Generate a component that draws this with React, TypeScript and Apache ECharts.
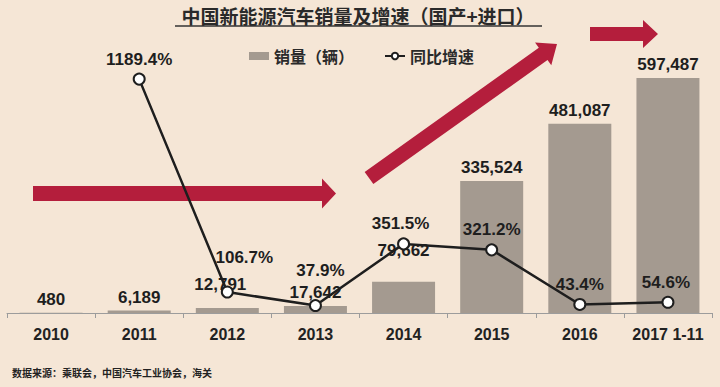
import React, { useEffect, useRef } from "react";
import * as echarts from "echarts";

const categories = ["2010", "2011", "2012", "2013", "2014", "2015", "2016", "2017 1-11"];
const salesValues = [480, 6189, 12791, 17642, 79662, 335524, 481087, 597487];
const growthValues: (number | null)[] = [null, 1189.4, 106.7, 37.9, 351.5, 321.2, 43.4, 54.6];

// label nudges (layout only)
const barLabelOffsets: [number, number][] = [[0, 0], [0, 0], [-7, -10], [0, 0], [0, -18], [0, 0], [0, 0], [0, 0]];
const lineLabelOffsets: [number, number][] = [[0, 0], [0, 0], [17, -15], [5, -15], [-3, 0], [0, 0], [0, 0], [-2, 0]];

const TITLE = "中国新能源汽车销量及增速（国产+进口）";
const SOURCE = "数据来源：乘联会，中国汽车工业协会，海关";
const SALES_NAME = "销量（辆）";
const GROWTH_NAME = "同比增速";

const LATIN = "'Liberation Sans', Arial, 'Noto Sans CJK SC', sans-serif";
const CJK = "'Noto Sans CJK SC', 'Liberation Sans', sans-serif";
const ARROW = "#b41e3c";

function arrowPoints(tail: number[], tip: number[], sh: number, hh: number, hl: number) {
  const dx = tip[0] - tail[0];
  const dy = tip[1] - tail[1];
  const len = Math.sqrt(dx * dx + dy * dy);
  const ux = dx / len, uy = dy / len;
  const nx = -uy, ny = ux;
  const bx = tip[0] - hl * ux, by = tip[1] - hl * uy;
  return [
    [tail[0] + sh * nx, tail[1] + sh * ny],
    [bx + sh * nx, by + sh * ny],
    [bx + hh * nx, by + hh * ny],
    [tip[0], tip[1]],
    [bx - hh * nx, by - hh * ny],
    [bx - sh * nx, by - sh * ny],
    [tail[0] - sh * nx, tail[1] - sh * ny],
  ];
}

export default function App() {
  const ref = useRef<HTMLDivElement>(null);
  useEffect(() => {
    if (!ref.current) return;
    const chart = echarts.init(ref.current, null, { renderer: "svg" });
    const labelText = { fontFamily: LATIN, fontWeight: "bold" as const, fontSize: 17, color: "#1e1e1e" };
    chart.setOption({
      animation: false,
      backgroundColor: "#f5e6d6",
      grid: { left: 7, right: 8, top: 37.7, bottom: 74 },
      legend: {
        left: 244,
        top: 43,
        itemWidth: 20,
        itemHeight: 8,
        itemGap: 30,
        textStyle: { fontFamily: CJK, fontWeight: "bold", fontSize: 16, color: "#2a2a2a" },
        data: [{ name: SALES_NAME, icon: "rect" }, { name: GROWTH_NAME }],
      },
      xAxis: {
        type: "category",
        data: categories,
        axisLine: { lineStyle: { color: "#9c9c9c", width: 1 } },
        axisTick: { show: true, length: 5, lineStyle: { color: "#9c9c9c" } },
        axisLabel: { interval: 0, fontFamily: LATIN, fontWeight: "bold", fontSize: 16, color: "#222", margin: 13 },
      },
      yAxis: [
        { type: "value", min: 0, max: 700000, show: false, splitLine: { show: false } },
        { type: "value", min: 0, max: 1400, show: false, splitLine: { show: false } },
      ],
      series: [
        {
          name: SALES_NAME,
          type: "bar",
          barWidth: 63,
          itemStyle: { color: "#a49a90" },
          label: {
            show: true,
            position: "top",
            distance: 5,
            ...labelText,
            formatter: (p: any) => Number(p.value).toLocaleString("en-US"),
          },
          data: salesValues.map((v, i) => ({ value: v, label: { offset: barLabelOffsets[i] } })),
        },
        {
          name: GROWTH_NAME,
          type: "line",
          yAxisIndex: 1,
          symbol: "emptyCircle",
          symbolSize: 11,
          z: 5,
          lineStyle: { color: "#1e1e1e", width: 2.5 },
          itemStyle: { color: "#1e1e1e", borderWidth: 1.5 },
          label: {
            show: true,
            position: "top",
            distance: 5,
            ...labelText,
            formatter: (p: any) => (p.value == null ? "" : Number(p.value).toFixed(1) + "%"),
          },
          data: growthValues.map((v, i) => ({ value: v, label: { offset: lineLabelOffsets[i] } })),
        },
      ],
      graphic: [
        {
          type: "text",
          x: 358,
          y: 15,
          style: {
            text: TITLE,
            fontFamily: CJK,
            fontWeight: "bold",
            fontSize: 19,
            fill: "#2a2a2a",
            textAlign: "center",
            textVerticalAlign: "middle",
          },
        },
        {
          type: "line",
          shape: { x1: 175, y1: 26, x2: 542, y2: 26 },
          style: { stroke: "#333", lineWidth: 1.5 },
        },
        {
          type: "polygon",
          shape: { points: arrowPoints([33, 193.5], [336, 193.5], 7.5, 15, 14) },
          style: { fill: ARROW },
        },
        {
          type: "polygon",
          shape: { points: arrowPoints([369, 178], [557, 44], 7.5, 14, 17) },
          style: { fill: ARROW },
        },
        {
          type: "polygon",
          shape: { points: arrowPoints([590, 34], [658, 34], 7, 14, 15) },
          style: { fill: ARROW },
        },
        {
          type: "text",
          x: 12,
          y: 372,
          style: {
            text: SOURCE,
            fontFamily: CJK,
            fontWeight: "bold",
            fontSize: 10,
            fill: "#222",
            textVerticalAlign: "middle",
          },
        },
      ],
    });
    return () => chart.dispose();
  }, []);
  return (
    <div
      ref={ref}
      style={{ position: "fixed", left: 0, top: 0, width: 720, height: 387 }}
    />
  );
}
